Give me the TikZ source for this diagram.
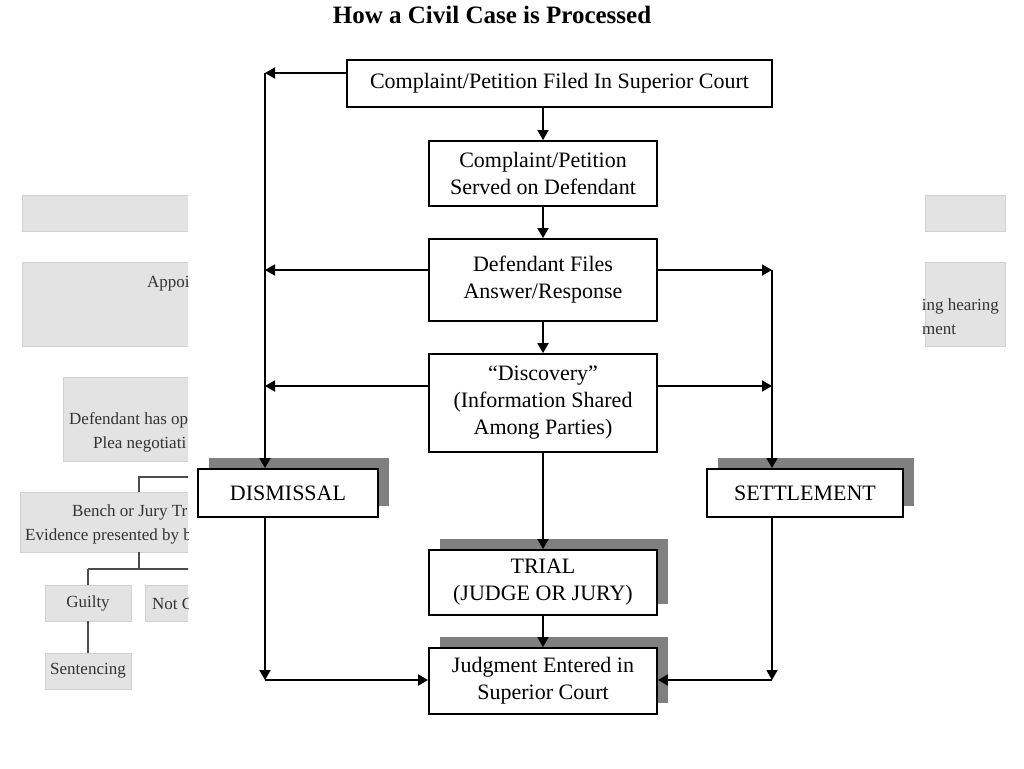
\documentclass[tikz,border=0pt]{standalone}
\usepackage{fontspec}
\setmainfont{Liberation Serif}
\usetikzlibrary{arrows.meta,shadows}
\definecolor{bggrey}{HTML}{E3E3E3}
\definecolor{shadowgrey}{HTML}{808080}
\begin{document}
\begin{tikzpicture}[x=1pt,y=-1pt,
  box/.style={draw, line width=1.8pt, fill=white, align=center, inner sep=0pt, font=\fontsize{22}{27}\selectfont},
  shadowed/.style={general shadow={fill=shadowgrey, shadow xshift=11pt, shadow yshift=11pt}},
  conn/.style={line width=1.8pt, -{Triangle[length=10pt,width=11pt]}},
  gbox/.style={fill=bggrey, draw=bggrey!92!black, line width=0.6pt},
  gtext/.style={font=\fontsize{17}{20}\selectfont, text=black!80, inner sep=0pt},
  gline/.style={line width=1.5pt, draw=black!70}]
\useasboundingbox[fill=white] (0,0) rectangle (1024,768);

% background slide fragments (left)
\begin{scope}
\clip (0,0) rectangle (188,768);
\draw[gbox] (22,195) rectangle (200,231);
\draw[gbox] (22,262) rectangle (200,346);
\node[gtext, anchor=base west] (ga) at (147,287) {Appoi};
\draw[gbox] (63,377) rectangle (200,461);
\node[gtext, anchor=base west] (gd1) at (69,424) {Defendant has op};
\node[gtext, anchor=base west] (gd2) at (93,448) {Plea negotiati};
\draw[gline] (139,492) -- (139,477) -- (200,477);
\draw[gbox] (20,492) rectangle (200,552);
\node[gtext, anchor=base west] (gb1) at (72,516) {Bench or Jury Tr};
\node[gtext, anchor=base west] (gb2) at (25,540) {Evidence presented by b};
\draw[gline] (139,552) -- (139,569) -- (200,569);
\draw[gline] (88,569) -- (139,569);
\draw[gline] (88,569) -- (88,585);
\draw[gbox] (45,585) rectangle (131,621);
\node[gtext] (gg) at (88,603) {Guilty};
\draw[gbox] (145,585) rectangle (200,621);
\node[gtext, anchor=base west] (gn) at (152,609) {Not G};
\draw[gline] (88,621) -- (88,653);
\draw[gbox] (45,653) rectangle (131,689);
\node[gtext] (gs) at (88,671) {Sentencing};
\end{scope}

% background slide fragments (right)
\begin{scope}
\clip (918,0) rectangle (1024,768);
\draw[gbox] (925,195) rectangle (1005,231);
\draw[gbox] (925,262) rectangle (1005,346);
\node[gtext, anchor=base east] (gh) at (999,310) {ing hearing};
\node[gtext, anchor=base west] (gm) at (922,334) {ment};
\end{scope}

% title
\node[font=\bfseries\fontsize{25}{30}\selectfont, inner sep=0pt] (title) at (492,15) {How a Civil Case is Processed};

% main boxes
\node[box, minimum width=425pt, minimum height=47pt] (b1) at (559.5,83.5) {Complaint/Petition Filed In Superior Court};
\node[box, minimum width=228pt, minimum height=65pt] (b2) at (543,173.5) {Complaint/Petition\\Served on Defendant};
\node[box, minimum width=228pt, minimum height=82pt] (b3) at (543,280) {Defendant Files\\Answer/Response};
\node[box, minimum width=228pt, minimum height=98pt] (b4) at (543,403) {``Discovery''\\(Information Shared\\Among Parties)};
\node[box, shadowed, minimum width=180pt, minimum height=48pt] (dis) at (288,493) {DISMISSAL};
\node[box, shadowed, minimum width=196pt, minimum height=48pt] (set) at (805,493) {SETTLEMENT};
\node[box, shadowed, minimum width=228pt, minimum height=65pt] (trial) at (543,582.5) {TRIAL\\(JUDGE OR JURY)};
\node[box, shadowed, minimum width=228pt, minimum height=66pt] (judg) at (543,681) {Judgment Entered in\\Superior Court};

% routing points
\coordinate (tl) at (265,73);
\coordinate (tr) at (772,270);
\coordinate (r3) at (0,270);
\coordinate (r4) at (0,386);
\coordinate (bl) at (265,680);
\coordinate (br) at (772,680);

% connectors
\draw[conn] (b1.west |- tl) -- (tl);
\draw[conn] (tl) -- (tl |- dis.north);
\draw[conn] (b2.north |- b1.south) -- (b2.north);
\draw[conn] (b2.south) -- (b3.north);
\draw[conn] (b3.south) -- (b4.north);
\draw[conn] (b4.south) -- (trial.north);
\draw[conn] (trial.south) -- (judg.north);
\draw[conn] (b3.west |- r3) -- (tl |- r3);
\draw[conn] (b4.west |- r4) -- (tl |- r4);
\draw[conn] (b3.east |- r3) -- (tr);
\draw[conn] (b4.east |- r4) -- (tr |- r4);
\draw[conn] (tr) -- (tr |- set.north);
\draw[conn] (tl |- dis.south) -- (bl);
\draw[conn] (bl) -- (judg.west |- bl);
\draw[conn] (tr |- set.south) -- (br);
\draw[conn] (br) -- (judg.east |- br);
\end{tikzpicture}
\end{document}
